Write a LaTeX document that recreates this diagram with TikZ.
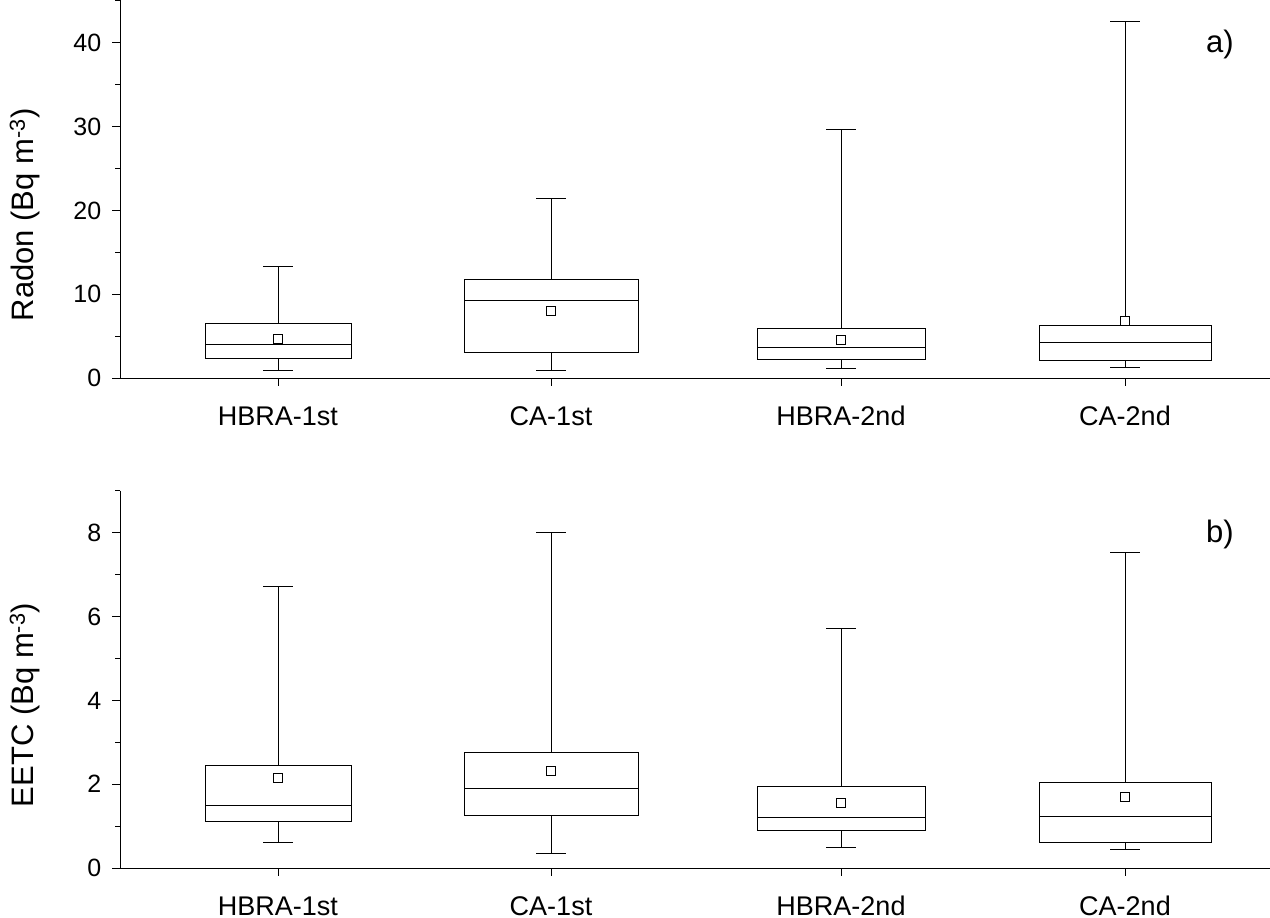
\documentclass[tikz,border=0pt]{standalone}
\usepackage{fontspec}
\setmainfont{Liberation Sans}
\begin{document}
\begin{tikzpicture}[x=1pt,y=-1pt,line width=1pt,
  lab/.style={font=\fontsize{27}{30}\selectfont,anchor=base},
  plab/.style={font=\fontsize{31}{36}\selectfont},
  ylab/.style={font=\fontsize{31}{36}\selectfont,rotate=90},
  tl/.style={font=\fontsize{25}{30}\selectfont,anchor=east},
  meanpt/.style={draw,fill=white,minimum size=9pt,inner sep=0pt,line width=0.8pt}]
\useasboundingbox (0,0) rectangle (1270,918);
\newcommand{\bx}[9]{% #1 cx #2 half width #3 wlo #4 whi #5 blo #6 bhi #7 med #8 mean #9 name
  \draw (#1,#3) -- (#1,#5) (#1,#6) -- (#1,#4);
  \draw (#1-15,#3) -- (#1+15,#3) (#1-15,#4) -- (#1+15,#4);
  \draw (#1-#2,#5) rectangle (#1+#2,#6);
  \draw (#1-#2,#7) -- (#1+#2,#7);
  \node[meanpt] (#9) at (#1,#8) {};}
% top panel
\begin{scope}[shift={(0,378)},yscale=-8.38]
\draw (120,45.1) -- (120,0) -- (1270,0);
\foreach \v in {0,10,...,40} {\draw (120,\v) -- (112,\v); \node[tl] at (105,\v) {\v};}
\foreach \v in {5,15,...,45} \draw (120,\v) -- (115,\v);
\foreach \c/\t in {278/HBRA-1st,551/CA-1st,841/HBRA-2nd,1125/CA-2nd} {\draw (\c,0) -- (\c,-0.9); \node[lab] at (\c,-5.7) {\t};}
\bx{278}{73}{0.9}{13.3}{2.3}{6.5}{4.0}{4.7}{m1}
\bx{551}{87}{0.9}{21.4}{3.1}{11.7}{9.2}{8.0}{m2}
\bx{841}{84}{1.1}{29.7}{2.2}{5.9}{3.6}{4.6}{m3}
\bx{1125}{86}{1.3}{42.6}{2.1}{6.3}{4.2}{6.8}{m4}
\node[plab] at (1220,39.8) {a)};
\end{scope}
\node[ylab] at (25,215) {Radon (Bq m\textsuperscript{-3})};
% bottom panel
\begin{scope}[shift={(0,868)},yscale=-41.9]
\draw (120,9) -- (120,0) -- (1270,0);
\foreach \v in {0,2,...,8} {\draw (120,\v) -- (112,\v); \node[tl] at (105,\v) {\v};}
\foreach \v in {1,3,...,9} \draw (120,\v) -- (115,\v);
\foreach \c/\t in {278/HBRA-1st,551/CA-1st,841/HBRA-2nd,1125/CA-2nd} {\draw (\c,0) -- (\c,-0.18); \node[lab] at (\c,-1.14) {\t};}
\bx{278}{73}{0.6}{6.72}{1.12}{2.45}{1.48}{2.15}{n1}
\bx{551}{87}{0.35}{8.0}{1.25}{2.75}{1.9}{2.32}{n2}
\bx{841}{84}{0.5}{5.72}{0.9}{1.95}{1.2}{1.56}{n3}
\bx{1125}{86}{0.45}{7.52}{0.6}{2.05}{1.22}{1.7}{n4}
\node[plab] at (1220,7.95) {b)};
\end{scope}
\node[ylab] at (25,705) {EETC (Bq m\textsuperscript{-3})};
\end{tikzpicture}
\end{document}
